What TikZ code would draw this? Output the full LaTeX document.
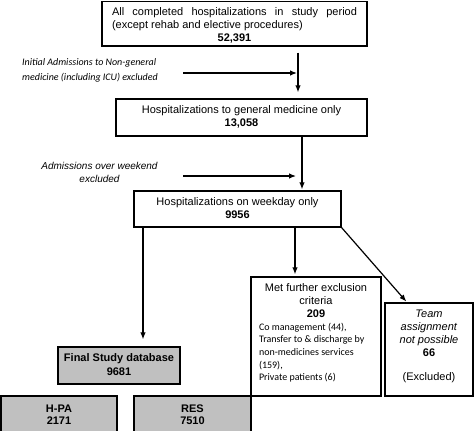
\documentclass[tikz,border=0pt]{standalone}
\usepackage{fontspec}
\setmainfont{Liberation Sans}
\newfontfamily\calibri{Carlito}
\usetikzlibrary{arrows.meta}
\definecolor{boxgray}{RGB}{192,192,192}
\newcommand\inbox[4]{\parbox[c][#2][t]{#1}{\centering\vspace*{#3}\strut#4}}
\begin{document}
\begin{tikzpicture}[x=1pt,y=-1pt,
  box/.style={draw, line width=1.3pt, inner sep=0pt, font=\fontsize{11}{13.5}\selectfont},
  greybox/.style={box, fill=boxgray},
  arr/.style={line width=1.2pt, -{Latex[length=7pt,width=5.5pt]}},
  ln/.style={line width=1.2pt},
  noteA/.style={font=\calibri\itshape\fontsize{10}{15}\selectfont, align=left, inner sep=0pt},
  noteB/.style={font=\itshape\fontsize{10}{13}\selectfont, align=center, inner sep=0pt}]
\clip (0,0) rectangle (474,431);
\fill[white] (0,0) rectangle (474,431);

\node[box] (b1) at (234.5,23.75) {\inbox{265pt}{44.5pt}{4.9pt}{\fontsize{11}{13}\selectfont\makebox[245pt][s]{All completed hospitalizations in study period}\\\makebox[245pt][l]{(except rehab and elective procedures)}\\\textbf{52,391}}};
\node[box] (b2) at (241.5,117.5) {\inbox{251pt}{37pt}{5pt}{Hospitalizations to general medicine only\\\textbf{13,058}}};
\node[box] (b3) at (237.5,209) {\inbox{207pt}{36pt}{5pt}{Hospitalizations on weekday only\\\textbf{9956}}};
\node[greybox] (fin) at (119,365.5) {\inbox{122pt}{37pt}{5.5pt}{\textbf{Final Study database}\\\textbf{9681}}};
\node[box] (met) at (316,336.5) {\inbox{130pt}{119pt}{5pt}{\fontsize{11}{13}\selectfont Met further exclusion\\criteria\\\textbf{209}\par
  \raggedright\leftskip=8pt\calibri\fontsize{10}{12.7}\selectfont Co management (44),\\Transfer to \& discharge by\\non-medicines services\\(159),\\Private patients (6)\par}};
\node[box] (team) at (429,349.5) {\inbox{88pt}{93pt}{5.5pt}{\fontsize{11}{13}\selectfont\textit{Team}\\\textit{assignment}\\\textit{not possible}\\\textbf{66}\\[11pt](Excluded)}};
\node[greybox] (hpa) at (59,418) {\inbox{116pt}{44pt}{6.6pt}{\fontsize{11}{12}\selectfont\textbf{H-PA}\\\textbf{2171}}};
\node[greybox] (res) at (192.5,418) {\inbox{117pt}{44pt}{6.6pt}{\fontsize{11}{12}\selectfont\textbf{RES}\\\textbf{7510}}};

\node[noteA, anchor=west] (n1) at (22,70.5) {Initial Admissions to Non-general\\medicine (including ICU) excluded};
\node[noteB] (n2) at (99.5,172.5) {Admissions over weekend\\excluded};

\coordinate (x1) at (298,0);
\coordinate (x2) at (302,0);
\coordinate (x3) at (143,0);
\coordinate (x4) at (295,0);
\coordinate (x5) at (407,0);
\coordinate (h1s) at (183,73);
\coordinate (h1e) at (297,73);
\coordinate (h2s) at (183,176);
\coordinate (h2e) at (296,176);

\draw[arr, shorten <=6pt, shorten >=6pt] (b1.south -| x1) -- (b2.north -| x1);
\draw[arr] (h1s) -- (h1e);
\draw[arr, shorten >=1pt] (b2.south -| x2) -- (b3.north -| x2);
\draw[arr] (h2s) -- (h2e);
\draw[arr, shorten >=7pt] (b3.south -| x3) -- (fin.north -| x3);
\draw[arr, shorten >=2pt] (b3.south -| x4) -- (met.north -| x4);
\draw[arr, shorten >=1pt] (b3.south east) -- (team.north -| x5);
\end{tikzpicture}
\end{document}
